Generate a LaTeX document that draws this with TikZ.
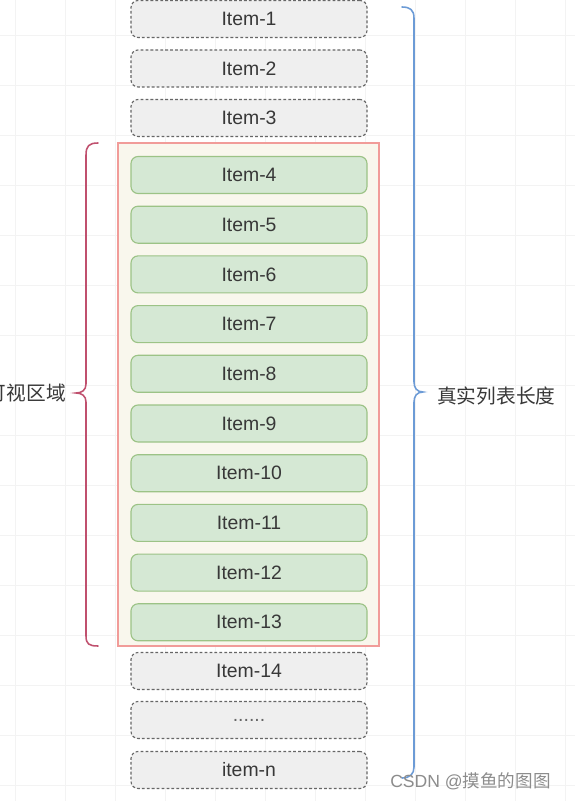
\documentclass[tikz,border=0pt]{standalone}
\usepackage{fontspec}
\setmainfont{Liberation Sans}
\newfontfamily\cjkfont{Noto Sans CJK SC}
\usepackage{tikz}
\usetikzlibrary{positioning}

\definecolor{gridgray}{HTML}{F3F3F3}
\definecolor{ghostfill}{HTML}{EFEFEF}
\definecolor{ghostline}{HTML}{666666}
\definecolor{itemfill}{HTML}{D5E8D4}
\definecolor{itemline}{HTML}{9CC386}
\definecolor{viewfill}{HTML}{F9F7ED}
\definecolor{viewline}{HTML}{F19C99}
\definecolor{viewbrace}{HTML}{C0506E}
\definecolor{listbrace}{HTML}{6C9BD6}
\definecolor{labeltext}{HTML}{383838}

\tikzset{
	itembox/.style={rounded corners=5, minimum width=236*0.025cm, minimum height=37*0.025cm,
		text=labeltext, font=\fontsize{13.8}{16}\selectfont, inner sep=0pt},
	ghost/.style={itembox, fill=ghostfill, draw=ghostline, dash pattern=on 2pt off 1.5pt, line width=0.8pt},
	shown/.style={itembox, fill=itemfill, draw=itemline, line width=0.8pt},
	gridline/.style={draw=gridgray, line width=0.5pt},
	bracket/.style={line width=1.1pt, line cap=round},
	bracelabel/.style={text=labeltext, font=\cjkfont\fontsize{14}{16}\selectfont, inner sep=0pt}
}

\begin{document}
\begin{tikzpicture}[x=0.025cm, y=-0.025cm]
			\useasboundingbox (0,0) rectangle (575,801);
			\fill[white] (0,0) rectangle (575,801);
			% background grid
			\foreach \gx in {15,65,...,565} \draw[gridline] (\gx,0) -- (\gx,801);
			\foreach \gy in {35,85,...,785} \draw[gridline] (0,\gy) -- (575,\gy);
			% visible area
			\node[fill=viewfill, draw=viewline, line width=0.8pt, minimum width=261*0.025cm, minimum height=503*0.025cm] (view) at (248.5,394.5) {};
			% items
			\foreach \i in {1,2,3}
				\node[ghost] (item\i) at (249,{19+(\i-1)*49.5}) {Item-\i};
			\foreach \i in {4,...,13}
				\node[shown] (item\i) at (249,{175+(\i-4)*49.7}) {Item-\i};
			\node[ghost] (item14) at (249,671) {Item-14};
			\node[ghost, text=ghostline] (itemdots) at (249,720) {......};
			\node[ghost] (itemn) at (249,770) {item-n};
			% braces
			\draw[bracket, viewbrace] (98,143) .. controls (89,143) and (86,146) .. (86,155) -- (86,384)
				.. controls (86,390) and (82,393) .. (76,393) .. controls (82,393) and (86,396) .. (86,402)
				-- (86,636) .. controls (86,644) and (89,646) .. (98,646);
			\draw[bracket, listbrace] (402,7) .. controls (410,7) and (414,10) .. (414,18) -- (414,382)
				.. controls (414,388) and (417,392) .. (423,392) .. controls (417,392) and (414,396) .. (414,402)
				-- (414,767) .. controls (414,774) and (410,778) .. (402,778);
			\node[bracelabel, anchor=east] (viewlabel) at (66,393) {可视区域};
			\node[bracelabel, anchor=west] (listlabel) at (437,396) {真实列表长度};
			% watermark
			\node[anchor=west, text=black!45, font=\fontsize{12.5}{14}\selectfont, inner sep=0pt] (mark) at (390,781) {CSDN @{\cjkfont 摸鱼的图图}};
		\end{tikzpicture}
\end{document}
